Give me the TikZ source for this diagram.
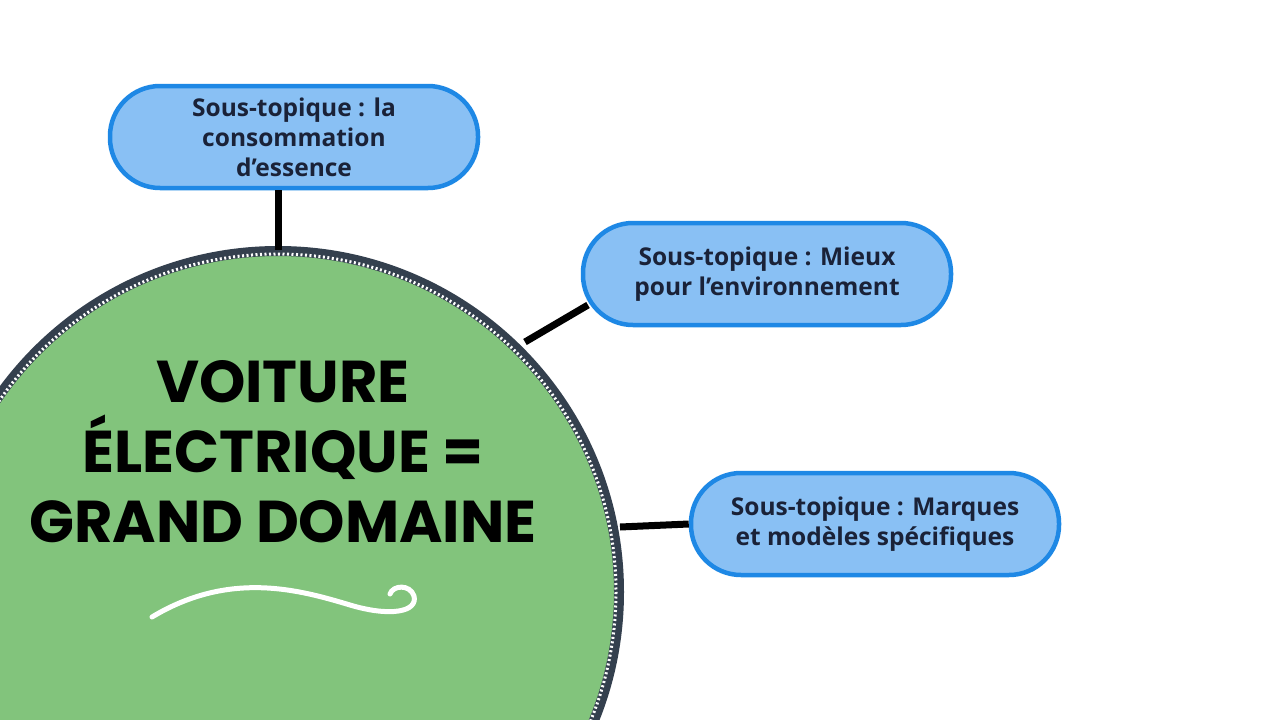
\documentclass[tikz,border=0pt]{standalone}
\usepackage{fontspec}
\setmainfont{Open Sans}[Ligatures=NoCommon]
\newfontfamily\titlefont{Poppins}
\begin{document}
\begin{tikzpicture}[x=1pt,y=-1pt,
  pill/.style={draw=pillborder, line width=4.5pt, fill=pillblue, rounded corners=50pt, minimum width=368pt, minimum height=102pt, align=center, text=navy, font=\fontsize{24.5}{30}\selectfont\bfseries},
  link/.style={line width=7pt, black}]
\definecolor{pillblue}{HTML}{89C0F4}
\definecolor{navy}{HTML}{1A2238}
\definecolor{pillborder}{HTML}{1E88E5}
\definecolor{circgreen}{HTML}{82C47C}
\definecolor{circedge}{HTML}{34404E}
\useasboundingbox (0,0) rectangle (1280,720);
\fill[white] (0,0) rectangle (1280,720);
\begin{scope}
\clip (0,0) rectangle (1280,720);
\fill[circgreen] (278,592) circle (342);
\draw[circedge, line width=10pt] (278,592) circle (341);
\draw[white, line width=3pt, dash pattern=on 2pt off 2.5pt] (278,592) circle (338);
\node (c) at (278,592) {};
\node[font=\titlefont\bfseries\fontsize{59}{70}\selectfont, text=black, align=center] (title) at (283,452) {VOITURE\\ÉLECTRIQUE =\\GRAND DOMAINE};
\draw[white, line width=5pt, line cap=round] (152,617) .. controls (230,570) and (300,590) .. (350,605)
  .. controls (390,617) and (418,612) .. (414,596) .. controls (410,584) and (393,585) .. (390,594);
\end{scope}
\node[pill] (p1) at (294,137) {Sous-topique : la\\consommation\\d\char"27 essence};
\node[pill] (p2) at (767,274) {Sous-topique : Mieux\\pour l\char"27 environnement};
\node[pill] (p3) at (875,524) {Sous-topique : Marques\\et modèles spécifiques};
\coordinate (a1) at (278,250);
\coordinate (a2) at (525,342);
\coordinate (a3) at (620,527);
\draw[link] (p1.south -| a1) -- (a1);
\draw[link] (a2) -- (588,305) coordinate (b2);
\draw[link] (a3) -- (p3.west);
\end{tikzpicture}
\end{document}
